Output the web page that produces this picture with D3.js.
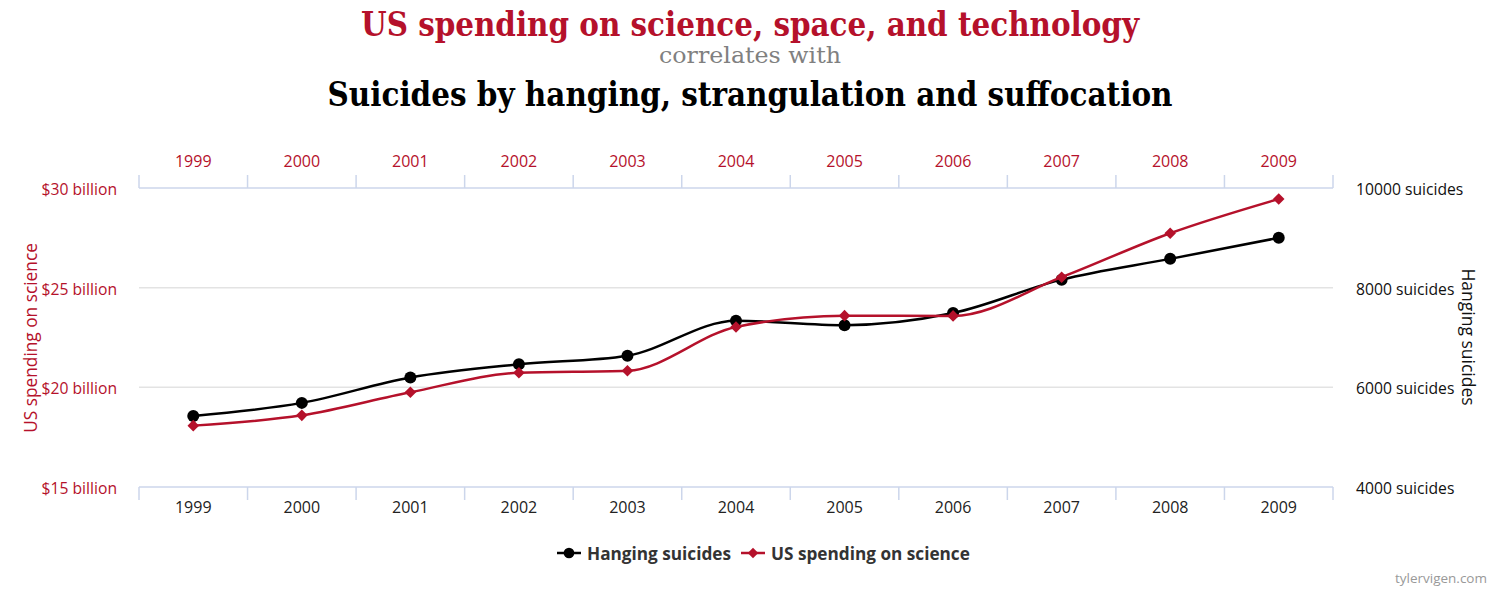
<!DOCTYPE html>
<html>
<head>
<meta charset="utf-8">
<script src="https://cdn.jsdelivr.net/npm/d3@7/dist/d3.min.js"></script>
<style>
  body { margin: 0; background: #fff; }
  svg { display: block; font-family: "Open Sans", sans-serif; }
</style>
</head>
<body>
<svg id="chart" width="1500" height="591"></svg>
<script>
const years = ["1999", "2000", "2001", "2002", "2003", "2004", "2005", "2006", "2007", "2008", "2009"];
// millions of dollars
const spending = [18079, 18594, 19753, 20734, 20831, 23029, 23597, 23584, 25525, 27731, 29449];
const suicides = [5427, 5688, 6198, 6462, 6635, 7336, 7248, 7491, 8161, 8578, 9000];
const spendTicks = [15000, 20000, 25000, 30000];
const suicideTicks = [4000, 6000, 8000, 10000];

const red = "#b5112b";
const axisBlue = "#ccd6eb";
const svg = d3.select("#chart");

const plotLeft = 139, plotRight = 1333, plotTop = 188, plotBottom = 487;

const x = d3.scaleBand().domain(years).range([plotLeft, plotRight]);
const ySpend = d3.scaleLinear().domain([15000, 30000]).range([plotBottom, plotTop]);
const ySuic = d3.scaleLinear().domain([4000, 10000]).range([plotBottom, plotTop]);

// titles
svg.append("text")
  .attr("x", 750).attr("y", 36)
  .attr("text-anchor", "middle")
  .attr("font-family", "DejaVu Serif Condensed, DejaVu Serif, serif")
  .attr("font-weight", "bold").attr("font-size", 33)
  .attr("textLength", 778).attr("lengthAdjust", "spacingAndGlyphs")
  .attr("fill", red)
  .text("US spending on science, space, and technology");

svg.append("text")
  .attr("x", 750).attr("y", 63)
  .attr("text-anchor", "middle")
  .attr("font-family", "DejaVu Serif Condensed, DejaVu Serif, serif")
  .attr("font-size", 23)
  .attr("textLength", 182).attr("lengthAdjust", "spacingAndGlyphs")
  .attr("fill", "#808080")
  .text("correlates with");

svg.append("text")
  .attr("x", 750).attr("y", 106)
  .attr("text-anchor", "middle")
  .attr("font-family", "DejaVu Serif Condensed, DejaVu Serif, serif")
  .attr("font-weight", "bold").attr("font-size", 34)
  .attr("textLength", 845).attr("lengthAdjust", "spacingAndGlyphs")
  .attr("fill", "#000")
  .text("Suicides by hanging, strangulation and suffocation");

// gridlines
svg.append("g")
  .selectAll("line")
  .data(spendTicks.filter((d) => d !== 15000 && d !== 30000))
  .enter()
  .append("line")
  .attr("x1", plotLeft).attr("x2", plotRight)
  .attr("y1", (d) => ySpend(d)).attr("y2", (d) => ySpend(d))
  .attr("stroke", "#e3e3e3").attr("stroke-width", 1.5);

// x axes (ticks at category boundaries)
const bounds = years.map((d) => x(d)).concat([plotRight]);

function xAxis(yLine, dir, color, labelY) {
  const g = svg.append("g");
  g.append("line")
    .attr("x1", plotLeft).attr("x2", plotRight)
    .attr("y1", yLine).attr("y2", yLine)
    .attr("stroke", axisBlue).attr("stroke-width", 1.5);
  g.selectAll("line.tick")
    .data(bounds)
    .enter()
    .append("line")
    .attr("class", "tick")
    .attr("x1", (d) => d).attr("x2", (d) => d)
    .attr("y1", yLine).attr("y2", yLine + dir * 13)
    .attr("stroke", axisBlue).attr("stroke-width", 1.5);
  g.selectAll("text")
    .data(years)
    .enter()
    .append("text")
    .attr("x", (d) => x(d) + x.bandwidth() / 2)
    .attr("y", labelY)
    .attr("text-anchor", "middle")
    .attr("dominant-baseline", "central")
    .attr("font-size", 16)
    .attr("fill", color)
    .text((d) => d);
}
xAxis(plotTop, -1, red, 161);
xAxis(plotBottom, 1, "#222", 507);

// y axis labels
svg.append("g")
  .selectAll("text")
  .data(spendTicks)
  .enter()
  .append("text")
  .attr("x", 117)
  .attr("y", (d) => ySpend(d) + 1)
  .attr("text-anchor", "end")
  .attr("dominant-baseline", "central")
  .attr("font-size", 15.7)
  .attr("fill", red)
  .text((d) => "$" + d / 1000 + " billion");

svg.append("g")
  .selectAll("text")
  .data(suicideTicks)
  .enter()
  .append("text")
  .attr("x", 1356)
  .attr("y", (d) => ySuic(d) + 1)
  .attr("dominant-baseline", "central")
  .attr("font-size", 15.7)
  .attr("fill", "#111")
  .text((d) => d + " suicides");

svg.append("text")
  .attr("transform", "translate(30,338) rotate(-90)")
  .attr("text-anchor", "middle")
  .attr("dominant-baseline", "central")
  .attr("font-size", 17.3)
  .attr("fill", red)
  .text("US spending on science");

svg.append("text")
  .attr("transform", "translate(1469,337) rotate(90)")
  .attr("text-anchor", "middle")
  .attr("dominant-baseline", "central")
  .attr("font-size", 17.5)
  .attr("fill", "#111")
  .text("Hanging suicides");

// lines
const cx = (d, i) => x(years[i]) + x.bandwidth() / 2;
const curve = d3.curveMonotoneX;

const lineSpend = d3.line().x(cx).y((d) => ySpend(d)).curve(curve);
const lineSuic = d3.line().x(cx).y((d) => ySuic(d)).curve(curve);

svg.append("path")
  .attr("d", lineSuic(suicides))
  .attr("fill", "none").attr("stroke", "#000").attr("stroke-width", 2.5);

svg.append("g")
  .selectAll("circle")
  .data(suicides)
  .enter()
  .append("circle")
  .attr("cx", cx).attr("cy", (d) => ySuic(d))
  .attr("r", 6).attr("fill", "#000");

svg.append("path")
  .attr("d", lineSpend(spending))
  .attr("fill", "none").attr("stroke", red).attr("stroke-width", 2.5);

const diamond = d3.symbol().type(d3.symbolDiamond2).size(85);
svg.append("g")
  .selectAll("path")
  .data(spending)
  .enter()
  .append("path")
  .attr("transform", (d, i) => `translate(${cx(d, i)},${ySpend(d)})`)
  .attr("d", diamond)
  .attr("fill", red);

// legend
const legend = [
  { label: "Hanging suicides", color: "#000", shape: d3.symbolCircle, size: 90, x: 557 },
  { label: "US spending on science", color: red, shape: d3.symbolDiamond2, size: 70, x: 741 },
];
const lg = svg.append("g").selectAll("g").data(legend).enter().append("g")
  .attr("transform", (d) => `translate(${d.x},553)`);
lg.append("line")
  .attr("x1", 0).attr("x2", 24)
  .attr("stroke", (d) => d.color).attr("stroke-width", 2.5);
lg.append("path")
  .attr("transform", "translate(12,0)")
  .attr("d", (d) => d3.symbol().type(d.shape).size(d.size)())
  .attr("fill", (d) => d.color);
lg.append("text")
  .attr("x", 30)
  .attr("dominant-baseline", "central")
  .attr("font-size", 17.2).attr("font-weight", "bold")
  .attr("fill", "#333")
  .text((d) => d.label);

svg.append("text")
  .attr("x", 1487).attr("y", 578)
  .attr("text-anchor", "end")
  .attr("dominant-baseline", "central")
  .attr("font-size", 13.5)
  .attr("fill", "#999")
  .text("tylervigen.com");
</script>
</body>
</html>
